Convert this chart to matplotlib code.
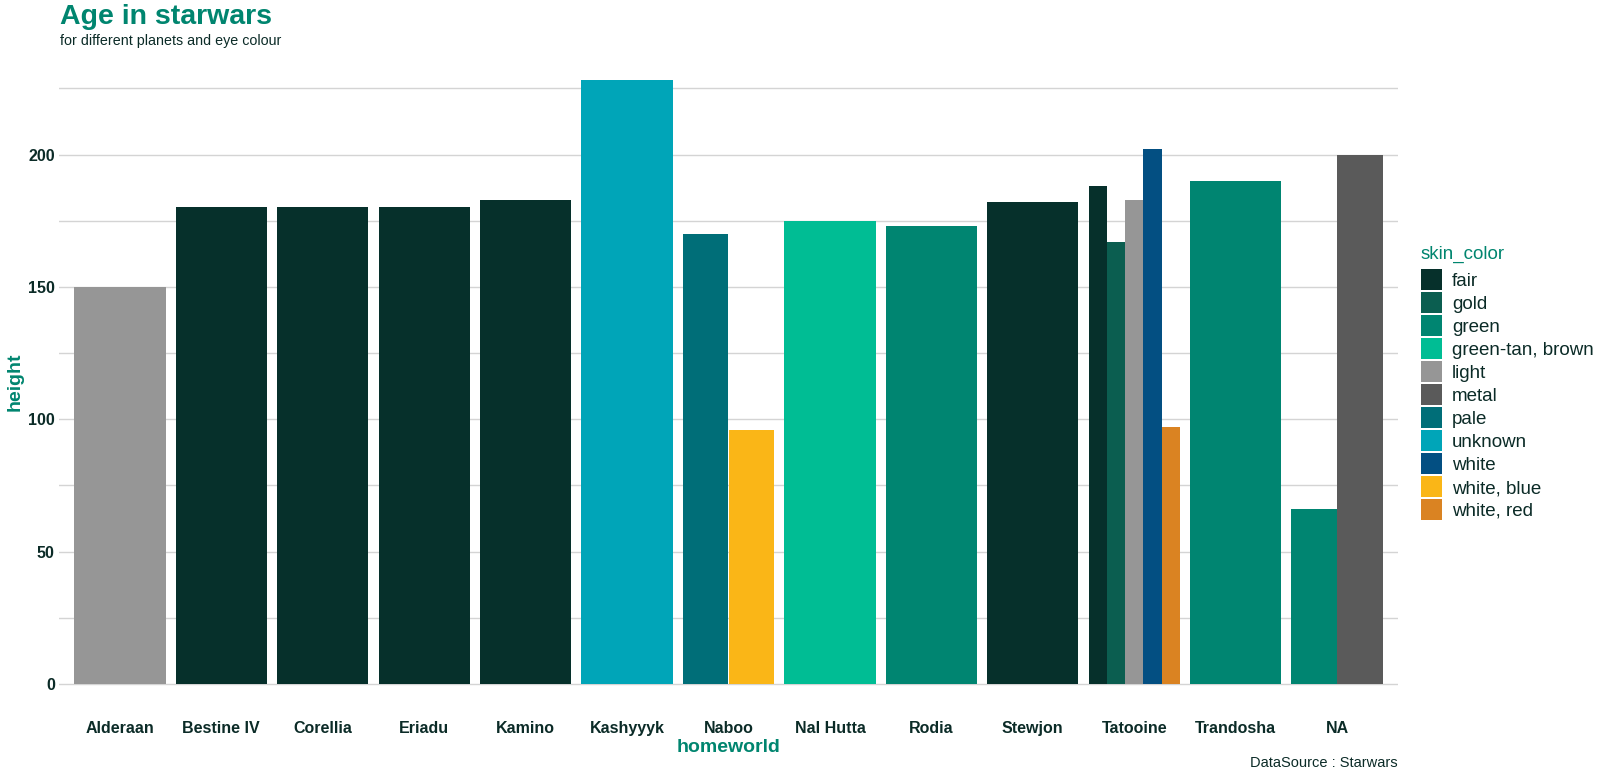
import matplotlib.pyplot as plt
from matplotlib.patches import Rectangle

plt.rcParams['font.family'] = ['Liberation Sans', 'DejaVu Sans']

# data
homeworlds = ['Alderaan', 'Bestine IV', 'Corellia', 'Eriadu', 'Kamino', 'Kashyyyk',
              'Naboo', 'Nal Hutta', 'Rodia', 'Stewjon', 'Tatooine', 'Trandosha', 'NA']
skin_colors = ['fair', 'gold', 'green', 'green-tan, brown', 'light', 'metal',
               'pale', 'unknown', 'white', 'white, blue', 'white, red']
skin_palette = ['#06302B', '#0B5E50', '#008571', '#00BD94', '#969696', '#5A5A5A',
                '#006E78', '#00A5B8', '#034F82', '#FAB617', '#DA8322']

bar_world = ['Alderaan', 'Bestine IV', 'Corellia', 'Eriadu', 'Kamino', 'Kashyyyk',
             'Naboo', 'Naboo', 'Nal Hutta', 'Rodia', 'Stewjon',
             'Tatooine', 'Tatooine', 'Tatooine', 'Tatooine', 'Tatooine',
             'Trandosha', 'NA', 'NA']
bar_skin = ['light', 'fair', 'fair', 'fair', 'fair', 'unknown',
            'pale', 'white, blue', 'green-tan, brown', 'green', 'fair',
            'fair', 'gold', 'light', 'white', 'white, red',
            'green', 'green', 'metal']
bar_height = [150, 180, 180, 180, 183, 228,
              170, 96, 175, 173, 182,
              188, 167, 183, 202, 97,
              190, 66, 200]

title_col = '#00856F'
text_col = '#0B2B27'
grid_col = '#D4D4D4'

fig = plt.figure(figsize=(16.07, 7.75), dpi=100)
W, H = 1607, 775
ax = fig.add_axes([59 / W, 0.0785, (1398 - 59) / W, 0.9352 - 0.0785])

color_of = dict(zip(skin_colors, skin_palette))

# dodge bars inside each homeworld, ordered by skin colour level
for i, world in enumerate(homeworlds):
    idx = [k for k in range(len(bar_world)) if bar_world[k] == world]
    idx.sort(key=lambda k: skin_colors.index(bar_skin[k]))
    n = len(idx)
    w = 0.9 / n
    for j, k in enumerate(idx):
        x = i - 0.45 + w * (j + 0.5)
        ax.bar(x, bar_height[k], width=w, color=color_of[bar_skin[k]], linewidth=0, zorder=2)

ax.set_xlim(-0.6, len(homeworlds) - 0.4)
ax.set_ylim(-11.4, 239.4)

for yv in range(0, 226, 25):
    ax.axhline(yv, color=grid_col, linewidth=1.0, zorder=1)

ax.set_yticks([0, 50, 100, 150, 200])
ax.set_xticks(range(len(homeworlds)))
ax.set_xticklabels(homeworlds)
ax.tick_params(axis='both', length=0, labelsize=11.5, labelcolor=text_col)
ax.tick_params(axis='y', pad=3)
ax.tick_params(axis='x', pad=5)
for lab in ax.get_xticklabels() + ax.get_yticklabels():
    lab.set_fontweight('bold')
for s in ax.spines.values():
    s.set_visible(False)

ax.set_ylabel('height', fontsize=14, fontweight='bold', color=title_col)
ax.yaxis.set_label_coords(-0.0267, 0.5)
fig.text(729 / W, 1 - 752 / H, 'homeworld', fontsize=14, fontweight='bold',
         color=title_col, ha='center', va='baseline')

fig.text(60 / W, 1 - 23.5 / H, 'Age in starwars', fontsize=20.5, fontweight='bold',
         color=title_col, ha='left', va='baseline')
fig.text(60 / W, 1 - 45 / H, 'for different planets and eye colour', fontsize=10.3,
         color=text_col, ha='left', va='baseline')
fig.text(1398 / W, 1 - 767 / H, 'DataSource : Starwars', fontsize=10.5,
         color=text_col, ha='right', va='baseline')

# legend
fig.text(1421 / W, 1 - 259 / H, 'skin_color', fontsize=13.5, color=title_col,
         ha='left', va='baseline')
for j, (name, col) in enumerate(zip(skin_colors, skin_palette)):
    top = 269 + 23 * j
    fig.patches.append(Rectangle((1421 / W, 1 - (top + 21) / H), 21 / W, 21 / H,
                                 transform=fig.transFigure, color=col, linewidth=0))
    fig.text(1452 / W, 1 - (top + 12.5) / H, name, fontsize=13.5, color=text_col,
             ha='left', va='center')

fig.savefig('out.png', dpi=100, facecolor='white')
